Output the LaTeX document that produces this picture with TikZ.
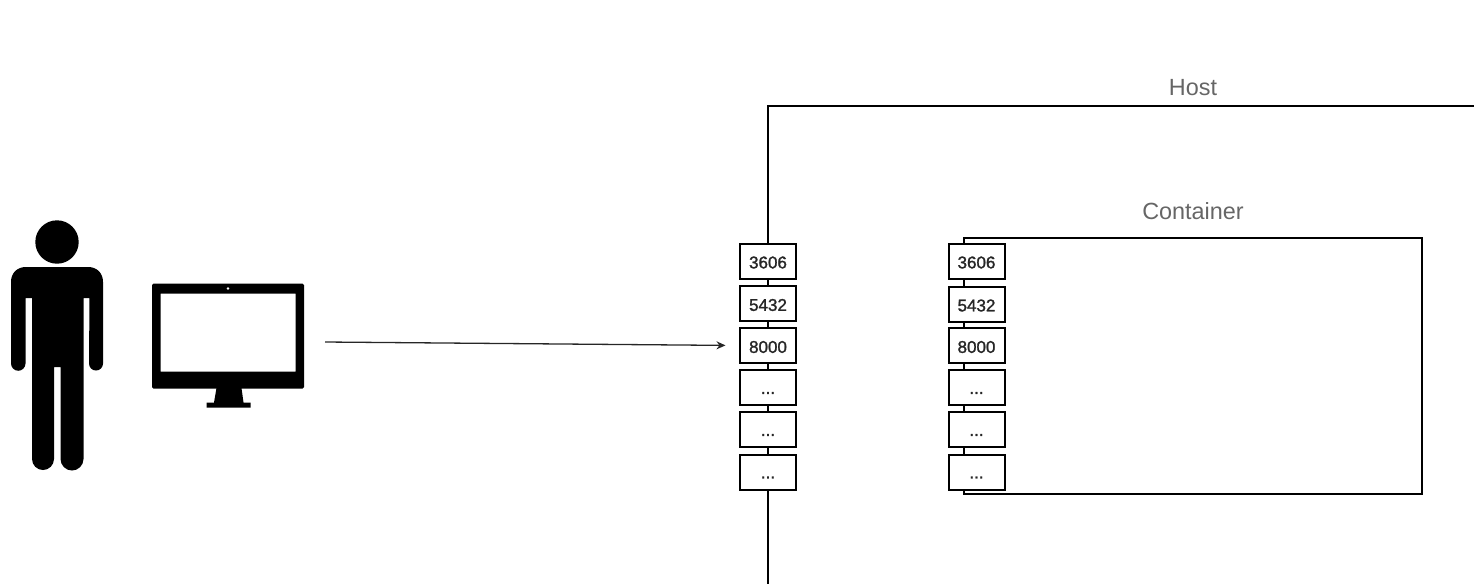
\documentclass[tikz,border=0pt]{standalone}
\usepackage{fontspec}
\setmainfont{Liberation Sans}
\newfontfamily\portfont[RawFeature={embolden=1.4}]{Liberation Sans}
\usetikzlibrary{arrows.meta}
\tikzset{
  portbox/.style={draw=black,line width=2pt,fill=white,minimum width=56pt,minimum height=35pt,inner sep=0pt},
  porttext/.style={inner sep=0pt,font=\portfont\fontsize{17}{17}\selectfont,text=black!85},
  frameline/.style={draw=black,line width=2pt},
  titletext/.style={font=\fontsize{23.4}{23.4}\selectfont,text=black!60,inner sep=0pt},
  icon/.style={fill=black,draw=none}
}
\begin{document}
\begin{tikzpicture}[x=1pt,y=-1pt]
\useasboundingbox (0,0) rectangle (1474,584);
% frames
\coordinate (hostTR) at (1474,105.5);
\coordinate (hostTL) at (767.5,105.5);
\coordinate (hostBL) at (767.5,584);
\draw[frameline] (hostTR) -- (hostTL) -- (hostBL);
\node[draw=black,line width=2pt,minimum width=458pt,minimum height=256pt,inner sep=0pt] (container) at (1193,366.2) {};
% host ports
\node[portbox] (h1) at (768,261) {};
\node[portbox] (h2) at (768,303.5) {};
\node[portbox] (h3) at (768,345.5) {};
\node[portbox] (h4) at (768,387.5) {};
\node[portbox] (h5) at (768,429.5) {};
\node[portbox] (h6) at (768,472) {};
% container ports
\node[portbox] (c1) at (976.5,261) {};
\node[portbox] (c2) at (976.5,304) {};
\node[portbox] (c3) at (976.5,345.5) {};
\node[portbox] (c4) at (976.5,387.5) {};
\node[portbox] (c5) at (976.5,429.5) {};
\node[portbox] (c6) at (976.5,472) {};
\foreach \n/\t in {h1/3606,h2/5432,h3/8000,c1/3606,c2/5432,c3/8000}{\node[porttext] at ([yshift=-1.5pt]\n.center) {\t};}
\foreach \n in {h4,h5,h6,c4,c5,c6}{\node[porttext] at ([yshift=-5.5pt]\n.center) {...};}
% labels
\node[titletext] (hostlabel) at (1193,87.5) {Host};
\node[titletext] (containerlabel) at (1193,211) {Container};
% arrow
\coordinate (arrowstart) at (325,342);
\draw[line width=1.3pt,draw=black!85,-{Stealth[length=9pt,width=8pt]},shorten >=13.5pt] (arrowstart) -- (h3.west);
% person
\fill[icon] (57,242) circle (21.7);
\fill[icon] (26,267) -- (88,267) .. controls (97,267) and (103,273) .. (103,282)
  -- (103,363.5) arc[start angle=0,end angle=-180,radius=7,y radius=-7] -- (89.5,298) -- (83.5,298)
  -- (83.5,459) arc[start angle=0,end angle=-180,radius=11.5,y radius=-11.5] -- (60.5,367) -- (54,367)
  -- (54,459) arc[start angle=0,end angle=-180,radius=11,y radius=-11] -- (32,298) -- (25.5,298)
  -- (25.5,363.5) arc[start angle=0,end angle=-180,radius=7.25,y radius=-7.25] -- (11,282)
  .. controls (11,273) and (17,267) .. (26,267) -- cycle;
% monitor
\fill[icon,even odd rule,rounded corners=1.5pt] (152,283.5) rectangle (304,388.5) {[sharp corners] (160.5,293.5) rectangle (295.5,371.5)};
\fill[white] (228,288.5) circle (1.4);
\fill[icon] (216.5,388) -- (241.5,388) -- (243.5,402.5) -- (250.5,402.5) -- (250.5,407.5) -- (206.5,407.5) -- (206.5,402.5) -- (214,402.5) -- cycle;
\end{tikzpicture}
\end{document}
